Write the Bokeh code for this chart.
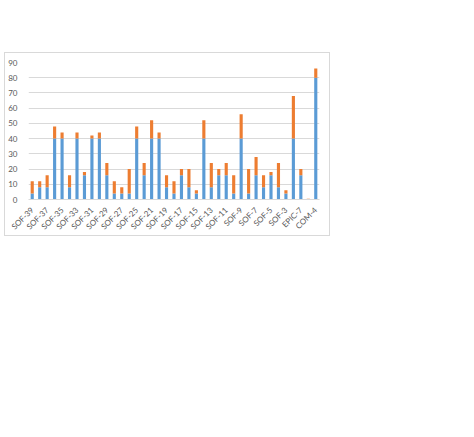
import math
from bokeh.plotting import figure
from bokeh.models import ColumnDataSource, Range1d, FixedTicker, Spacer
from bokeh.layouts import column, row
from bokeh.embed import file_html
from bokeh.resources import INLINE

categories = ["SOF-39", "SOF-38", "SOF-37", "SOF-36", "SOF-35", "SOF-34", "SOF-33", "SOF-32",
              "SOF-31", "SOF-30", "SOF-29", "SOF-28", "SOF-27", "SOF-26", "SOF-25", "SOF-23",
              "SOF-21", "SOF-20", "SOF-19", "SOF-18", "SOF-17", "SOF-16", "SOF-15", "SOF-14",
              "SOF-13", "SOF-12", "SOF-11", "SOF-10", "SOF-9", "SOF-8", "SOF-7", "SOF-6",
              "SOF-5", "SOF-4", "SOF-3", "SOF-2", "EPIC-7", "COM-5", "COM-4"]
series_blue = [4, 8, 8, 40, 40, 8, 40, 16, 40, 40, 16, 4, 4, 4, 40, 16, 40, 40, 8, 4,
               16, 8, 4, 40, 8, 16, 16, 4, 40, 4, 16, 8, 16, 8, 4, 40, 16, 0, 80]
series_orange = [8, 4, 8, 8, 4, 8, 4, 2, 2, 4, 8, 8, 4, 16, 8, 8, 12, 4, 8, 8,
                 4, 12, 2, 12, 16, 4, 8, 12, 16, 16, 12, 8, 2, 16, 2, 28, 4, 0.5, 6]
y_ticks = [0, 10, 20, 30, 40, 50, 60, 70, 80, 90]

positions = list(range(1, len(categories) + 1))
source = ColumnDataSource(dict(x=positions, blue=series_blue, orange=series_orange))

p = figure(width=326, height=184, output_backend="svg", toolbar_location=None, title=None,
           x_range=Range1d(0.5, len(categories) + 0.5), y_range=Range1d(0, 90),
           min_border_left=20, min_border_right=12, min_border_top=9, min_border_bottom=35)

p.vbar_stack(["blue", "orange"], x="x", width=0.42, color=["#5B9BD5", "#ED7D31"],
             source=source, line_width=0)

label_font = "Lato"
p.xaxis.ticker = FixedTicker(ticks=positions[::2])
p.xaxis.major_label_overrides = {positions[i]: categories[i] for i in range(0, len(categories), 2)}
p.xaxis.major_label_orientation = math.pi / 4
p.xaxis.axis_line_color = "#D9D9D9"
p.xaxis.major_tick_line_color = None
p.xaxis.minor_tick_line_color = None
p.xaxis.major_label_standoff = 3

p.yaxis.ticker = FixedTicker(ticks=y_ticks)
p.yaxis.axis_line_color = None
p.yaxis.major_tick_line_color = None
p.yaxis.minor_tick_line_color = None
p.yaxis.major_label_standoff = 5

for ax in (p.xaxis, p.yaxis):
    ax.major_label_text_font = label_font
    ax.major_label_text_font_size = "8px"
    ax.major_label_text_color = "#595959"

p.xgrid.grid_line_color = None
p.ygrid.grid_line_color = "#D9D9D9"
p.ygrid.ticker = FixedTicker(ticks=y_ticks)
p.outline_line_color = None
p.background_fill_color = "white"
p.border_fill_color = "white"
p.styles = {"border": "1px solid #D9D9D9"}

layout = column(Spacer(height=52, width=10), row(Spacer(width=4, height=10), p))

with open("out.html", "w") as f:
    f.write(file_html(layout, INLINE))
